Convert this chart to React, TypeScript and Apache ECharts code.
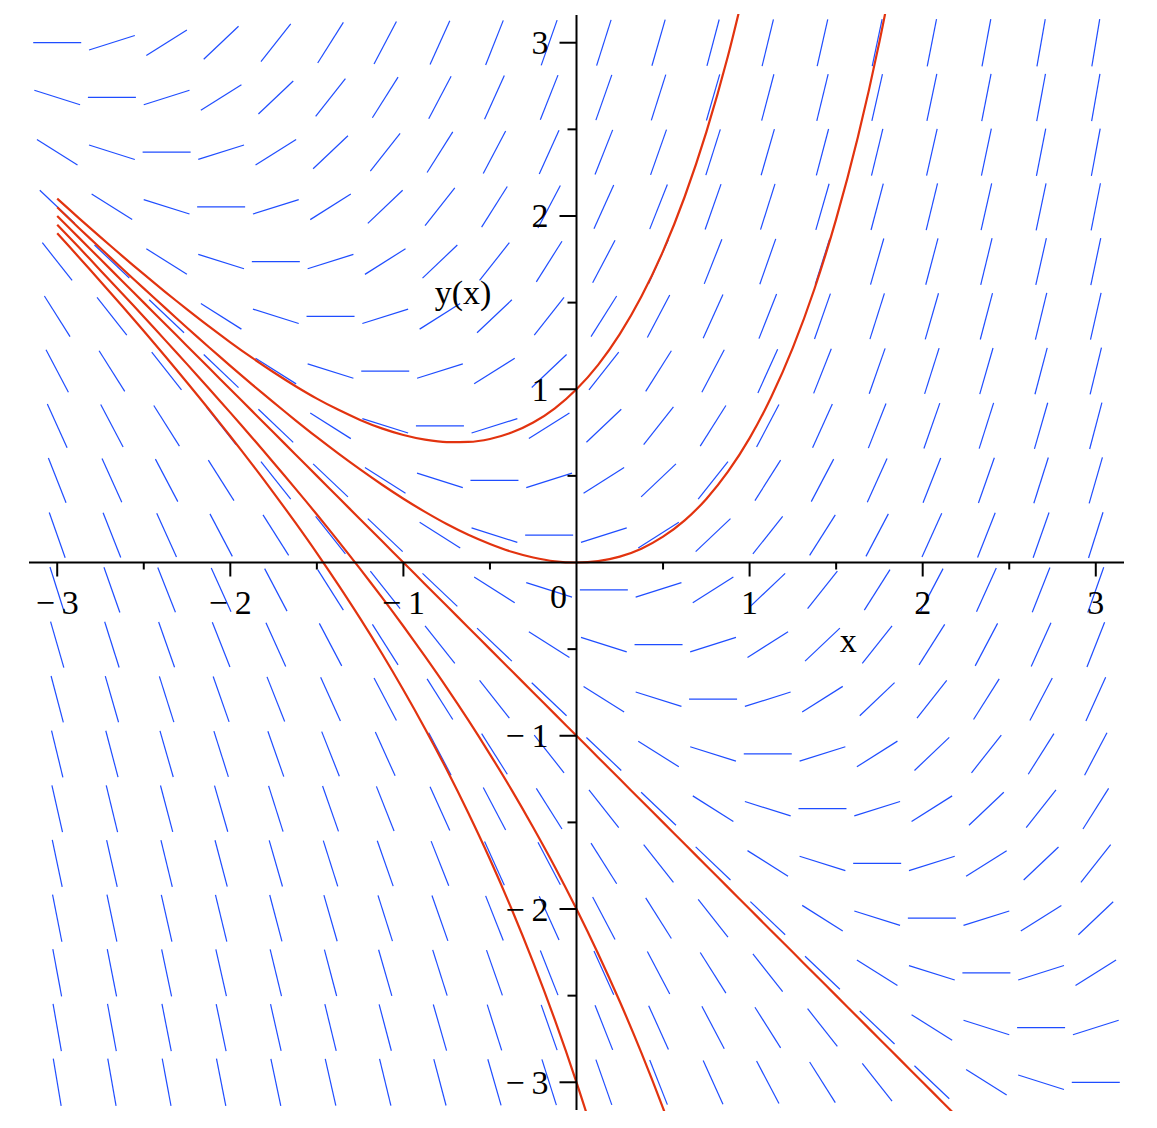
import React, { useEffect, useRef } from "react";
import * as echarts from "echarts";

// Grid points of the direction field (20 x 20 between -3 and 3)
const FIELD_X = [-3, -2.684, -2.368, -2.053, -1.737, -1.421, -1.105, -0.789, -0.474, -0.158, 0.158, 0.474, 0.789, 1.105, 1.421, 1.737, 2.053, 2.368, 2.684, 3];
const FIELD_Y = [-3, -2.684, -2.368, -2.053, -1.737, -1.421, -1.105, -0.789, -0.474, -0.158, 0.158, 0.474, 0.789, 1.105, 1.421, 1.737, 2.053, 2.368, 2.684, 3];

// Solution curves (x positions shared by all curves)
const CURVE_X = [-3, -2.875, -2.75, -2.625, -2.5, -2.375, -2.25, -2.125, -2, -1.875, -1.75, -1.625, -1.5, -1.375, -1.25, -1.125, -1, -0.875, -0.75, -0.625, -0.5, -0.375, -0.25, -0.125, 0, 0.125, 0.25, 0.375, 0.5, 0.625, 0.75, 0.875, 1, 1.125, 1.25, 1.375, 1.5, 1.625, 1.75, 1.875, 2, 2.125, 2.25];
const CURVE_Y0_1 = [2.1, 1.988, 1.878, 1.77, 1.664, 1.561, 1.461, 1.364, 1.271, 1.182, 1.098, 1.019, 0.946, 0.881, 0.823, 0.774, 0.736, 0.709, 0.695, 0.696, 0.713, 0.75, 0.808, 0.89, 1.0, 1.141, 1.318, 1.535, 1.797, 2.111, 2.484, 2.923, 3.437];
const CURVE_Y0_0 = [2.05, 1.931, 1.814, 1.697, 1.582, 1.468, 1.355, 1.244, 1.135, 1.028, 0.924, 0.822, 0.723, 0.628, 0.537, 0.45, 0.368, 0.292, 0.222, 0.16, 0.107, 0.062, 0.029, 0.007, 0, 0.008, 0.034, 0.08, 0.149, 0.243, 0.367, 0.524, 0.718, 0.955, 1.24, 1.58, 1.982, 2.453, 3.005, 3.646];
const CURVE_Y0_M1 = [2, 1.875, 1.75, 1.625, 1.5, 1.375, 1.25, 1.125, 1, 0.875, 0.75, 0.625, 0.5, 0.375, 0.25, 0.125, 0, -0.125, -0.25, -0.375, -0.5, -0.625, -0.75, -0.875, -1, -1.125, -1.25, -1.375, -1.5, -1.625, -1.75, -1.875, -2, -2.125, -2.25, -2.375, -2.5, -2.625, -2.75, -2.875, -3, -3.125, -3.25];
const CURVE_Y0_M2 = [1.95, 1.819, 1.686, 1.553, 1.418, 1.282, 1.145, 1.006, 0.865, 0.722, 0.576, 0.428, 0.277, 0.122, -0.037, -0.2, -0.368, -0.542, -0.722, -0.91, -1.107, -1.312, -1.529, -1.757, -2, -2.258, -2.534, -2.83, -3.149, -3.493];
const CURVE_Y0_M3 = [1.9, 1.762, 1.622, 1.48, 1.336, 1.189, 1.039, 0.886, 0.729, 0.568, 0.402, 0.231, 0.054, -0.131, -0.323, -0.524, -0.736, -0.959, -1.195, -1.446, -1.713, -2.0, -2.308, -2.64, -3, -3.391];

const TICKS = [-3, -2, -1, 1, 2, 3];
const MINOR_TICKS = [-2.5, -1.5, -0.5, 0.5, 1.5, 2.5];

const BLUE = "#1f4dff";
const RED = "#e2330f";
const FONT = "Liberation Serif";
const FS = 34;

function pairs(xs: number[], ys: number[]) {
  return ys.map((y, i) => [xs[i], y]);
}

export default function App() {
  const ref = useRef<HTMLDivElement>(null);
  useEffect(() => {
    if (!ref.current) return;
    const chart = echarts.init(ref.current, undefined, { renderer: "svg" });
    const fieldData: number[][] = [];
    for (const y of FIELD_Y) for (const x of FIELD_X) fieldData.push([x, y]);
    const fmt = (v: number) => (v < 0 ? "\u2212\u2009" + String(-v) : String(v));
    const curves = [
      pairs(CURVE_X, CURVE_Y0_1),
      pairs(CURVE_X, CURVE_Y0_0),
      pairs(CURVE_X, CURVE_Y0_M1),
      pairs(CURVE_X, CURVE_Y0_M2),
      pairs(CURVE_X, CURVE_Y0_M3),
    ];
    const HALF = 24;
    const XMIN = -3.163, XMAX = 3.163, YMIN = -3.16, YMAX = 3.16;
    const hiddenAxis = {
      type: "value",
      axisLine: { show: false },
      axisTick: { show: false },
      axisLabel: { show: false },
      splitLine: { show: false },
    };
    const textStyle = (text: string, align: string) => ({
      text,
      fontFamily: FONT,
      fontSize: FS,
      fill: "#000",
      align,
      verticalAlign: "middle",
    });
    chart.setOption({
      animation: false,
      grid: { left: 29, top: 15, width: 1095, height: 1095, containLabel: false, outerBoundsMode: "none" },
      xAxis: { ...hiddenAxis, min: XMIN, max: XMAX },
      yAxis: { ...hiddenAxis, min: YMIN, max: YMAX },
      series: [
        {
          type: "custom",
          name: "field",
          data: fieldData,
          z: 1,
          silent: true,
          renderItem: (params: any, api: any) => {
            const x = api.value(0);
            const y = api.value(1);
            const s = x + y; // dy/dx = x + y
            const c = api.coord([x, y]);
            const p = api.coord([x + 1, y + s]);
            let dx = p[0] - c[0];
            let dy = p[1] - c[1];
            const L = Math.hypot(dx, dy);
            dx = (dx / L) * HALF;
            dy = (dy / L) * HALF;
            return {
              type: "line",
              shape: { x1: c[0] - dx, y1: c[1] - dy, x2: c[0] + dx, y2: c[1] + dy },
              style: { stroke: BLUE, lineWidth: 1.2 },
            };
          },
        },
        ...curves.map((d, i) => ({
          type: "line",
          name: "curve" + i,
          data: d,
          z: 3,
          showSymbol: false,
          smooth: 0.3,
          clip: true,
          silent: true,
          lineStyle: { color: RED, width: 2.2, join: "round" },
        })),
        {
          type: "custom",
          name: "axes",
          data: [[0, 0]],
          z: 20,
          silent: true,
          clip: false,
          renderItem: (params: any, api: any) => {
            const o = api.coord([0, 0]);
            const l = api.coord([XMIN, YMIN]);
            const r = api.coord([XMAX, YMAX]);
            const children: any[] = [];
            const black = { stroke: "#000", lineWidth: 2 };
            children.push({ type: "line", shape: { x1: l[0], y1: o[1], x2: r[0], y2: o[1] }, style: black });
            children.push({ type: "line", shape: { x1: o[0], y1: r[1], x2: o[0], y2: l[1] }, style: black });
            for (const t of MINOR_TICKS) {
              const px = api.coord([t, 0]);
              children.push({ type: "line", shape: { x1: px[0], y1: o[1], x2: px[0], y2: o[1] + 7 }, style: black });
              const py = api.coord([0, t]);
              children.push({ type: "line", shape: { x1: o[0] - 9, y1: py[1], x2: o[0], y2: py[1] }, style: black });
            }
            for (const t of TICKS) {
              const px = api.coord([t, 0]);
              children.push({ type: "line", shape: { x1: px[0], y1: o[1], x2: px[0], y2: o[1] + 14 }, style: black });
              children.push({ type: "text", x: px[0], y: o[1] + 40, style: textStyle(fmt(t), "center") });
              const py = api.coord([0, t]);
              children.push({ type: "line", shape: { x1: o[0] - 17, y1: py[1], x2: o[0], y2: py[1] }, style: black });
              children.push({ type: "text", x: o[0] - 28, y: py[1], style: textStyle(fmt(t), "right") });
            }
            children.push({ type: "text", x: o[0] - 18, y: o[1] + 34, style: textStyle("0", "center") });
            const xn = api.coord([1.57, -0.45]);
            children.push({ type: "text", x: xn[0], y: xn[1], style: textStyle("x", "center") });
            const yn = api.coord([-0.655, 1.56]);
            children.push({ type: "text", x: yn[0], y: yn[1], style: textStyle("y(x)", "center") });
            return { type: "group", children };
          },
        },
      ],
    });
    return () => chart.dispose();
  }, []);
  return (
    <div
      ref={ref}
      style={{ position: "fixed", left: 0, top: 0, width: 1157, height: 1128, background: "#fff" }}
    />
  );
}
